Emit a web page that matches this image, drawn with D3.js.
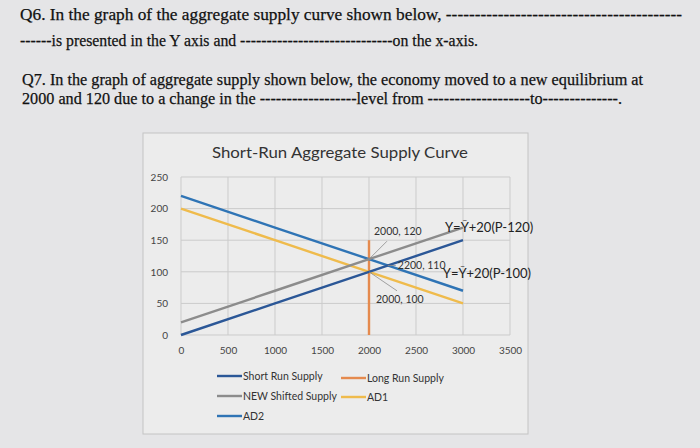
<!DOCTYPE html>
<html><head><meta charset="utf-8">
<script src="https://cdn.jsdelivr.net/npm/d3@7/dist/d3.min.js"></script>
<style>
html,body{margin:0;padding:0;background:#e5e5e7;}
svg{display:block;}
</style></head>
<body>
<svg id="c" width="700" height="448"></svg>
<script>
// ---- data ----
const questionLines = [
  "Q6. In the graph of the aggregate supply curve shown below, -----------------------------------------",
  "------is presented in the Y axis and -----------------------------on the x-axis.",
  "Q7. In the graph of aggregate supply shown below, the economy moved to a new equilibrium at",
  "2000 and 120 due to a change in the ------------------level from -------------------to--------------."
];
const chartTitle = "Short-Run Aggregate Supply Curve";
const xTicks = [0, 500, 1000, 1500, 2000, 2500, 3000, 3500];
const yTicks = [0, 50, 100, 150, 200, 250];
const outputY = [0, 1000, 2000, 3000];
const shortRunSupply = [0, 50, 100, 150];
const newShiftedSupply = [20, 70, 120, 170];
const ad1 = [200, 150, 100, 50];
const ad2 = [220, 170, 120, 70];
const longRunX = [2000, 2000];
const longRunP = [0, 150];
const pointLabels = [
  {x: 2000, y: 120, text: "2000, 120"},
  {x: 2200, y: 110, text: "2200, 110"},
  {x: 2000, y: 100, text: "2000, 100"}
];
const eqLabels = ["Y=Ȳ+20(P-120)", "Y=Ȳ+20(P-100)"];
const seriesNames = ["Short Run Supply", "Long Run Supply", "NEW Shifted Supply", "AD1", "AD2"];
const colors = {sras: "#2b5797", lras: "#e58a4e", newS: "#8c8c8c", ad1: "#efbb4c", ad2: "#2f74b5"};

// ---- drawing ----
const svg = d3.select("#c");
const serif = "'Liberation Serif','Times New Roman',serif";
const sans = "Lato,'Open Sans',sans-serif";

// question text
const qPos = [{x: 20, y: 20, w: 662}, {x: 20, y: 46, w: 458}, {x: 22, y: 85, w: 621}, {x: 22, y: 104, w: 600}];
questionLines.forEach((t, i) => {
  svg.append("text").attr("x", qPos[i].x).attr("y", qPos[i].y)
    .attr("font-family", serif).attr("font-size", 17.5).attr("fill", "#111")
    .attr("stroke", "#111").attr("stroke-width", 0.25)
    .attr("textLength", qPos[i].w).attr("lengthAdjust", "spacingAndGlyphs")
    .text(t);
});

// chart frame
svg.append("rect").attr("x", 143).attr("y", 133).attr("width", 385).attr("height", 301)
  .attr("fill", "#ececec").attr("stroke", "#c4c4c4").attr("stroke-width", 1);

svg.append("text").attr("x", 340).attr("y", 158).attr("text-anchor", "middle")
  .attr("font-family", sans).attr("font-size", 16).attr("fill", "#333")
  .attr("textLength", 256).attr("lengthAdjust", "spacingAndGlyphs")
  .text(chartTitle);

const x = d3.scaleLinear().domain([0, 3500]).range([181, 510]);
const y = d3.scaleLinear().domain([0, 250]).range([335, 177]);

// grid
const g = svg.append("g");
g.selectAll(".vg").data(xTicks).enter().append("line")
  .attr("x1", d => x(d)).attr("x2", d => x(d)).attr("y1", y(0)).attr("y2", y(250))
  .attr("stroke", "#cbcbcb").attr("stroke-width", 1);
g.selectAll(".hg").data(yTicks).enter().append("line")
  .attr("x1", x(0)).attr("x2", x(3500)).attr("y1", d => y(d)).attr("y2", d => y(d))
  .attr("stroke", "#cbcbcb").attr("stroke-width", 1);

// axes
const yAxis = d3.axisLeft(y).tickValues(yTicks).tickSize(0).tickPadding(13);
const ya = svg.append("g").attr("transform", `translate(${x(0)},0)`).call(yAxis);
const xAxis = d3.axisBottom(x).tickValues(xTicks).tickFormat(d3.format("d")).tickSize(0).tickPadding(12);
const xa = svg.append("g").attr("transform", `translate(0,${y(0)})`).call(xAxis);
[ya, xa].forEach(a => {
  a.select(".domain").remove();
  a.selectAll("text").attr("font-family", sans).attr("font-size", 10).attr("fill", "#444");
});

// lines
const line = d3.line().x(d => x(d[0])).y(d => y(d[1]));
function draw(xs, ys, col) {
  svg.append("path").datum(xs.map((v, i) => [v, ys[i]])).attr("d", line)
    .attr("fill", "none").attr("stroke", col).attr("stroke-width", 2.4);
}
draw(longRunX, longRunP, colors.lras);
draw(outputY, ad1, colors.ad1);
draw(outputY, ad2, colors.ad2);
draw(outputY, newShiftedSupply, colors.newS);
draw(outputY, shortRunSupply, colors.sras);

// point labels with leader lines
const offs = [{dx: 5, dy: -24, lx: 18, ly: -18}, {dx: 10, dy: 4, lx: 8, ly: 0}, {dx: 7, dy: 31, lx: 28, ly: 19}];
pointLabels.forEach((p, i) => {
  const px = x(p.x), py = y(p.y), o = offs[i];
  svg.append("line").attr("x1", px).attr("y1", py).attr("x2", px + o.lx).attr("y2", py + o.ly)
    .attr("stroke", "#8c8c8c").attr("stroke-width", 0.8);
  svg.append("text").attr("x", px + o.dx).attr("y", py + o.dy)
    .attr("font-family", sans).attr("font-size", 10.5).attr("fill", "#333").text(p.text);
});
// equation labels
svg.append("text").attr("x", x(3000) - 18).attr("y", y(170) + 4)
  .attr("font-family", sans).attr("font-size", 13).attr("fill", "#222").text(eqLabels[0]);
svg.append("text").attr("x", x(2200) + 55).attr("y", y(110) + 13)
  .attr("font-family", sans).attr("font-size", 13).attr("fill", "#222").text(eqLabels[1]);

// legend
const legPos = [[217, 376], [341, 378], [217, 396], [341, 397], [217, 416]];
const legCols = [colors.sras, colors.lras, colors.newS, colors.ad1, colors.ad2];
seriesNames.forEach((n, i) => {
  const [lx, ly] = legPos[i];
  svg.append("line").attr("x1", lx).attr("x2", lx + 25).attr("y1", ly).attr("y2", ly)
    .attr("stroke", legCols[i]).attr("stroke-width", 2.4);
  svg.append("text").attr("x", lx + 26).attr("y", ly + 4)
    .attr("font-family", sans).attr("font-size", 10.5).attr("fill", "#333").text(n);
});
</script>
</body></html>
